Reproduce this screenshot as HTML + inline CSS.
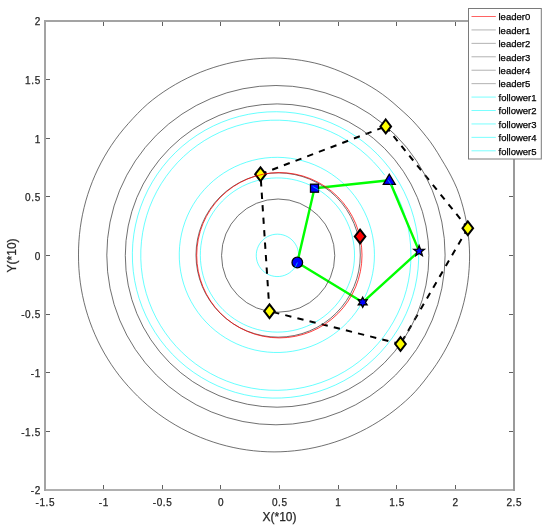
<!DOCTYPE html>
<html><head><meta charset="utf-8"><title>plot</title><style>html,body{margin:0;padding:0;background:#fff;overflow:hidden}svg{display:block}text{font-family:"Liberation Sans",Arial,sans-serif}</style></head><body>
<svg width="550" height="530" viewBox="0 0 550 530">
<rect width="550" height="530" fill="#fff"/>
<path d="M418.42,245.26 A143.2,143.2 0 1 0 418.67,250.25" fill="none" stroke="#00ffff" stroke-width="0.6"/>
<path d="M384.68,175.17 A135.1,135.1 0 1 0 388.20,180.19" fill="none" stroke="#00ffff" stroke-width="0.6"/>
<path d="M364.60,297.63 A97.6,97.6 0 1 0 362.57,301.57" fill="none" stroke="#00ffff" stroke-width="0.6"/>
<path d="M310.35,185.30 A77.1,77.1 0 1 0 312.76,186.49" fill="none" stroke="#00ffff" stroke-width="0.6"/>
<path d="M298.60,256.76 A21.2,21.2 0 1 0 297.40,262.53" fill="none" stroke="#00ffff" stroke-width="0.6"/>
<polyline points="297.3,262.5 314.5,188.2 389.3,180.2 419.1,251.1 362.7,302.3 297.3,262.5" fill="none" stroke="#00ff00" stroke-width="2.4" stroke-linejoin="round"/>
<line x1="260.5" y1="174.2" x2="385.75" y2="126.4" stroke="#000" stroke-width="2" stroke-dasharray="6.3 6.2"/>
<line x1="385.75" y1="126.4" x2="467.8" y2="228.2" stroke="#000" stroke-width="2" stroke-dasharray="6.3 6.2"/>
<line x1="467.8" y1="228.2" x2="400.5" y2="344.0" stroke="#000" stroke-width="2" stroke-dasharray="6.3 6.2"/>
<line x1="400.5" y1="344.0" x2="269.5" y2="311.2" stroke="#000" stroke-width="2" stroke-dasharray="6.3 6.2"/>
<line x1="269.5" y1="311.2" x2="260.5" y2="174.2" stroke="#000" stroke-width="2" stroke-dasharray="6.3 6.2"/>
<path d="M469.60,254.95 L469.39,248.13 L468.95,241.32 L468.26,234.54 L467.35,227.78 L466.19,221.07 L464.81,214.40 L463.19,207.79 L461.34,201.24 L459.27,194.77 L456.92,188.39 L454.13,182.19 L451.12,176.11 L447.91,170.15 L444.50,164.32 L441.03,158.54 L437.59,152.76 L433.95,147.09 L430.12,141.56 L425.97,136.26 L421.75,131.02 L417.39,125.88 L412.86,120.90 L408.09,116.15 L403.12,111.60 L398.08,107.13 L393.02,102.67 L387.80,98.39 L382.42,94.28 L376.86,90.41 L371.12,86.82 L365.25,83.42 L359.27,80.23 L353.17,77.24 L347.00,74.40 L340.76,71.66 L334.43,69.13 L328.00,66.82 L321.48,64.74 L314.84,63.03 L308.14,61.59 L301.39,60.39 L294.60,59.42 L287.77,58.69 L280.92,58.20 L274.05,57.99 L267.18,58.11 L260.31,58.47 L253.46,59.06 L246.64,59.90 L239.85,60.97 L233.10,62.28 L226.40,63.83 L219.76,65.60 L213.18,67.61 L206.68,69.85 L200.26,72.31 L193.93,75.00 L187.70,77.90 L181.57,81.02 L175.55,84.35 L169.66,87.89 L163.89,91.63 L158.26,95.58 L152.77,99.71 L147.47,104.09 L142.42,108.76 L137.54,113.59 L132.83,118.58 L128.24,123.67 L123.75,128.84 L119.44,134.16 L115.35,139.65 L111.45,145.27 L107.75,151.03 L104.25,156.92 L100.96,162.92 L97.89,169.03 L95.03,175.24 L92.39,181.55 L89.97,187.95 L87.78,194.43 L85.81,200.97 L84.08,207.58 L82.57,214.25 L81.30,220.96 L80.27,227.72 L79.47,234.50 L78.91,241.30 L78.58,248.12 L78.50,254.95 L78.58,261.78 L78.90,268.60 L79.46,275.40 L80.25,282.19 L81.29,288.94 L82.55,295.65 L84.05,302.32 L85.79,308.93 L87.75,315.48 L89.94,321.96 L92.36,328.36 L95.00,334.67 L97.85,340.89 L100.93,347.00 L104.21,353.01 L107.71,358.89 L111.40,364.66 L115.30,370.29 L119.40,375.78 L123.71,381.10 L128.21,386.27 L132.85,391.31 L137.65,396.20 L142.62,400.92 L147.75,405.46 L153.06,409.81 L158.53,413.95 L164.13,417.91 L169.88,421.66 L175.75,425.22 L181.74,428.57 L187.84,431.70 L194.05,434.62 L200.36,437.33 L206.77,439.81 L213.25,442.07 L219.81,444.10 L226.44,445.90 L233.13,447.46 L239.87,448.80 L246.65,449.90 L253.47,450.76 L260.31,451.38 L267.18,451.76 L274.05,451.90 L280.92,451.77 L287.79,451.39 L294.63,450.77 L301.45,449.92 L308.23,448.82 L314.98,447.49 L321.66,445.92 L328.29,444.12 L334.86,442.09 L341.34,439.84 L347.75,437.36 L354.06,434.65 L360.27,431.73 L366.38,428.60 L372.37,425.25 L378.25,421.70 L383.99,417.94 L389.60,413.99 L395.07,409.84 L400.40,405.53 L405.58,401.03 L410.60,396.36 L415.38,391.43 L419.89,386.26 L424.21,380.95 L428.34,375.50 L432.44,370.03 L436.35,364.43 L440.06,358.69 L443.57,352.82 L446.87,346.84 L449.96,340.75 L452.84,334.55 L455.50,328.26 L457.93,321.88 L460.14,315.41 L462.13,308.88 L463.88,302.28 L465.40,295.62 L466.69,288.92 L467.75,282.17 L468.57,275.39 L469.15,268.59 L469.49,261.78Z" fill="none" stroke="#404040" stroke-width="0.75"/>
<ellipse cx="275.95" cy="255.15" rx="169.15" ry="169.65" fill="none" stroke="#404040" stroke-width="0.75"/>
<ellipse cx="277.1" cy="255.55" rx="151.8" ry="151.65" fill="none" stroke="#404040" stroke-width="0.75"/>
<ellipse cx="278.15" cy="255.0" rx="82.15" ry="82.15" fill="none" stroke="#404040" stroke-width="0.75"/>
<ellipse cx="278.15" cy="255.6" rx="56.6" ry="56.6" fill="none" stroke="#404040" stroke-width="0.75"/>
<polygon points="260.5,167.29999999999998 265.8,174.2 260.5,181.1 255.2,174.2" fill="#ffff00" stroke="#000" stroke-width="2" stroke-linejoin="miter" stroke-miterlimit="10"/>
<polygon points="385.75,119.5 391.05,126.4 385.75,133.3 380.45,126.4" fill="#ffff00" stroke="#000" stroke-width="2" stroke-linejoin="miter" stroke-miterlimit="10"/>
<polygon points="467.8,221.29999999999998 473.1,228.2 467.8,235.1 462.5,228.2" fill="#ffff00" stroke="#000" stroke-width="2" stroke-linejoin="miter" stroke-miterlimit="10"/>
<polygon points="400.5,337.1 405.8,344.0 400.5,350.9 395.2,344.0" fill="#ffff00" stroke="#000" stroke-width="2" stroke-linejoin="miter" stroke-miterlimit="10"/>
<polygon points="269.5,304.3 274.8,311.2 269.5,318.09999999999997 264.2,311.2" fill="#ffff00" stroke="#000" stroke-width="2" stroke-linejoin="miter" stroke-miterlimit="10"/>
<circle cx="297.3" cy="262.5" r="5.3" fill="#0000ff" stroke="#000" stroke-width="1.3"/>
<rect x="310.5" y="184.2" width="8" height="8" fill="#0000ff" stroke="#000" stroke-width="1.3"/>
<polygon points="389.3,174.2 383.3,184.4 395.3,184.4" fill="#0000ff" stroke="#000" stroke-width="1.3"/>
<polygon points="419.10,245.50 420.51,249.16 424.43,249.37 421.38,251.84 422.39,255.63 419.10,253.50 415.81,255.63 416.82,251.84 413.77,249.37 417.69,249.16" fill="#0000ff" stroke="#000" stroke-width="1.3"/>
<polygon points="362.70,297.20 364.10,299.88 367.12,299.75 365.50,302.30 367.12,304.85 364.10,304.72 362.70,307.40 361.30,304.72 358.28,304.85 359.90,302.30 358.28,299.75 361.30,299.88" fill="#0000ff" stroke="#000" stroke-width="1.3"/>
<path d="M391.60,185.57 A135.1,135.1 0 0 0 388.20,180.19" fill="none" stroke="#00ffff" stroke-width="0.6"/>
<path d="M319.39,190.34 A77.1,77.1 0 0 0 312.76,186.49" fill="none" stroke="#00ffff" stroke-width="0.6"/>
<path d="M294.60,267.81 A21.2,21.2 0 0 0 297.40,262.53" fill="none" stroke="#00ffff" stroke-width="0.6"/>
<ellipse cx="279.35" cy="255.25" rx="82.65" ry="82.65" fill="none" stroke="#ff0000" stroke-width="0.75"/>
<polygon points="360.1,229.6 365.40000000000003,236.5 360.1,243.4 354.8,236.5" fill="#ff0000" stroke="#000" stroke-width="2" stroke-linejoin="miter" stroke-miterlimit="10"/>
<rect x="44" y="20" width="471" height="2" fill="#a3a3a3"/>
<rect x="44" y="489" width="471" height="2" fill="#b0b0b0"/>
<rect x="44" y="20" width="2" height="471" fill="#a3a3a3"/>
<rect x="513" y="20" width="2" height="471" fill="#9a9a9a"/>
<rect x="103" y="22" width="1" height="4" fill="#606060"/>
<rect x="103" y="485" width="1" height="4" fill="#606060"/>
<rect x="162" y="22" width="1" height="4" fill="#606060"/>
<rect x="162" y="485" width="1" height="4" fill="#606060"/>
<rect x="220" y="22" width="1" height="4" fill="#606060"/>
<rect x="220" y="485" width="1" height="4" fill="#606060"/>
<rect x="279" y="22" width="1" height="4" fill="#606060"/>
<rect x="279" y="485" width="1" height="4" fill="#606060"/>
<rect x="338" y="22" width="1" height="4" fill="#606060"/>
<rect x="338" y="485" width="1" height="4" fill="#606060"/>
<rect x="396" y="22" width="1" height="4" fill="#606060"/>
<rect x="396" y="485" width="1" height="4" fill="#606060"/>
<rect x="455" y="22" width="1" height="4" fill="#606060"/>
<rect x="455" y="485" width="1" height="4" fill="#606060"/>
<rect x="46" y="431" width="4" height="1" fill="#606060"/>
<rect x="509" y="431" width="4" height="1" fill="#606060"/>
<rect x="46" y="372" width="4" height="1" fill="#606060"/>
<rect x="509" y="372" width="4" height="1" fill="#606060"/>
<rect x="46" y="314" width="4" height="1" fill="#606060"/>
<rect x="509" y="314" width="4" height="1" fill="#606060"/>
<rect x="46" y="255" width="4" height="1" fill="#606060"/>
<rect x="509" y="255" width="4" height="1" fill="#606060"/>
<rect x="46" y="196" width="4" height="1" fill="#606060"/>
<rect x="509" y="196" width="4" height="1" fill="#606060"/>
<rect x="46" y="138" width="4" height="1" fill="#606060"/>
<rect x="509" y="138" width="4" height="1" fill="#606060"/>
<rect x="46" y="79" width="4" height="1" fill="#606060"/>
<rect x="509" y="79" width="4" height="1" fill="#606060"/>
<text x="45.30" y="505.8" stroke-width="0.25" font-size="10" letter-spacing="0.6" text-anchor="middle" fill="#262626" stroke="#262626">-1.5</text>
<text x="103.92" y="505.8" stroke-width="0.25" font-size="10" letter-spacing="0.6" text-anchor="middle" fill="#262626" stroke="#262626">-1</text>
<text x="162.55" y="505.8" stroke-width="0.25" font-size="10" letter-spacing="0.6" text-anchor="middle" fill="#262626" stroke="#262626">-0.5</text>
<text x="221.18" y="505.8" stroke-width="0.25" font-size="10" letter-spacing="0.6" text-anchor="middle" fill="#262626" stroke="#262626">0</text>
<text x="279.80" y="505.8" stroke-width="0.25" font-size="10" letter-spacing="0.6" text-anchor="middle" fill="#262626" stroke="#262626">0.5</text>
<text x="338.43" y="505.8" stroke-width="0.25" font-size="10" letter-spacing="0.6" text-anchor="middle" fill="#262626" stroke="#262626">1</text>
<text x="397.05" y="505.8" stroke-width="0.25" font-size="10" letter-spacing="0.6" text-anchor="middle" fill="#262626" stroke="#262626">1.5</text>
<text x="455.68" y="505.8" stroke-width="0.25" font-size="10" letter-spacing="0.6" text-anchor="middle" fill="#262626" stroke="#262626">2</text>
<text x="514.30" y="505.8" stroke-width="0.25" font-size="10" letter-spacing="0.6" text-anchor="middle" fill="#262626" stroke="#262626">2.5</text>
<text x="40.80" y="494.30" stroke-width="0.25" font-size="10" letter-spacing="0.6" text-anchor="end" fill="#262626" stroke="#262626">-2</text>
<text x="40.80" y="435.68" stroke-width="0.25" font-size="10" letter-spacing="0.6" text-anchor="end" fill="#262626" stroke="#262626">-1.5</text>
<text x="40.80" y="377.05" stroke-width="0.25" font-size="10" letter-spacing="0.6" text-anchor="end" fill="#262626" stroke="#262626">-1</text>
<text x="40.80" y="318.43" stroke-width="0.25" font-size="10" letter-spacing="0.6" text-anchor="end" fill="#262626" stroke="#262626">-0.5</text>
<text x="40.80" y="259.80" stroke-width="0.25" font-size="10" letter-spacing="0.6" text-anchor="end" fill="#262626" stroke="#262626">0</text>
<text x="40.80" y="201.18" stroke-width="0.25" font-size="10" letter-spacing="0.6" text-anchor="end" fill="#262626" stroke="#262626">0.5</text>
<text x="40.80" y="142.55" stroke-width="0.25" font-size="10" letter-spacing="0.6" text-anchor="end" fill="#262626" stroke="#262626">1</text>
<text x="40.80" y="83.92" stroke-width="0.25" font-size="10" letter-spacing="0.6" text-anchor="end" fill="#262626" stroke="#262626">1.5</text>
<text x="40.80" y="25.30" stroke-width="0.25" font-size="10" letter-spacing="0.6" text-anchor="end" fill="#262626" stroke="#262626">2</text>
<text x="279.5" y="521.2" stroke-width="0.25" font-size="12" text-anchor="middle" fill="#262626" stroke="#262626">X(*10)</text>
<text transform="translate(16.2,255.4) rotate(-90)" x="0" y="0" stroke-width="0.25" font-size="12" text-anchor="middle" fill="#262626" stroke="#262626">Y(*10)</text>
<rect x="468.5" y="8.5" width="72.8" height="150.5" fill="#fff" stroke="#7a7a7a" stroke-width="1"/>
<line x1="471.5" y1="16.50" x2="495.8" y2="16.50" stroke="#ff2020" stroke-width="0.7"/>
<text x="498.5" y="20.30" stroke-width="0.25" font-size="9.5" fill="#000" stroke="#000">leader0</text>
<line x1="471.5" y1="29.93" x2="495.8" y2="29.93" stroke="#909090" stroke-width="0.7"/>
<text x="498.5" y="33.73" stroke-width="0.25" font-size="9.5" fill="#000" stroke="#000">leader1</text>
<line x1="471.5" y1="43.36" x2="495.8" y2="43.36" stroke="#909090" stroke-width="0.7"/>
<text x="498.5" y="47.16" stroke-width="0.25" font-size="9.5" fill="#000" stroke="#000">leader2</text>
<line x1="471.5" y1="56.79" x2="495.8" y2="56.79" stroke="#909090" stroke-width="0.7"/>
<text x="498.5" y="60.59" stroke-width="0.25" font-size="9.5" fill="#000" stroke="#000">leader3</text>
<line x1="471.5" y1="70.22" x2="495.8" y2="70.22" stroke="#909090" stroke-width="0.7"/>
<text x="498.5" y="74.02" stroke-width="0.25" font-size="9.5" fill="#000" stroke="#000">leader4</text>
<line x1="471.5" y1="83.65" x2="495.8" y2="83.65" stroke="#909090" stroke-width="0.7"/>
<text x="498.5" y="87.45" stroke-width="0.25" font-size="9.5" fill="#000" stroke="#000">leader5</text>
<line x1="471.5" y1="97.08" x2="495.8" y2="97.08" stroke="#40ffff" stroke-width="0.7"/>
<text x="498.5" y="100.88" stroke-width="0.25" font-size="9.5" fill="#000" stroke="#000">follower1</text>
<line x1="471.5" y1="110.51" x2="495.8" y2="110.51" stroke="#40ffff" stroke-width="0.7"/>
<text x="498.5" y="114.31" stroke-width="0.25" font-size="9.5" fill="#000" stroke="#000">follower2</text>
<line x1="471.5" y1="123.94" x2="495.8" y2="123.94" stroke="#40ffff" stroke-width="0.7"/>
<text x="498.5" y="127.74" stroke-width="0.25" font-size="9.5" fill="#000" stroke="#000">follower3</text>
<line x1="471.5" y1="137.37" x2="495.8" y2="137.37" stroke="#40ffff" stroke-width="0.7"/>
<text x="498.5" y="141.17" stroke-width="0.25" font-size="9.5" fill="#000" stroke="#000">follower4</text>
<line x1="471.5" y1="150.80" x2="495.8" y2="150.80" stroke="#40ffff" stroke-width="0.7"/>
<text x="498.5" y="154.60" stroke-width="0.25" font-size="9.5" fill="#000" stroke="#000">follower5</text>
</svg>
</body></html>
